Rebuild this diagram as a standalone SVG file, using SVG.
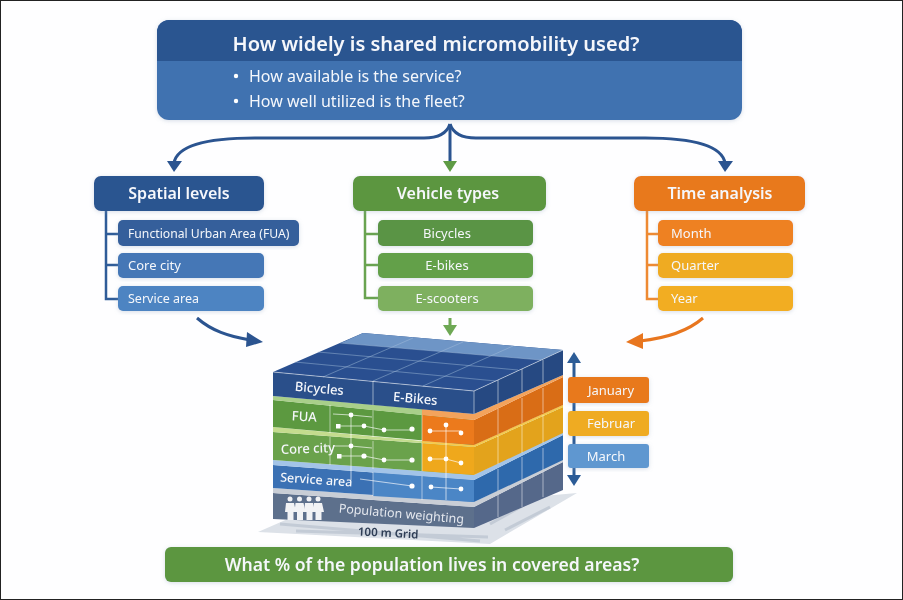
<svg xmlns="http://www.w3.org/2000/svg" width="903" height="600" viewBox="0 0 903 600">
<style>
text{font-family:"Noto Sans","Open Sans","Liberation Sans",sans-serif;fill:#f5f7fb;font-size:13px}
.h{font-weight:600;font-size:16px;text-anchor:middle}
.c{text-anchor:middle}
.cube{font-size:13px;font-weight:500}
.sep{stroke:#fff;stroke-opacity:.5;stroke-width:1;fill:none}
.topsep{stroke:#a9c0de;stroke-opacity:.45;stroke-width:1;fill:none}
.net{stroke:#fff;stroke-opacity:.65;stroke-width:1;fill:none}
.dot{fill:#fff}
.spine{fill:none;stroke-width:2.5}
.arrow{fill:none;stroke-width:3}
</style>
<defs>
<filter id="sh" x="-5%" y="-10%" width="110%" height="125%"><feDropShadow dx="0" dy="1" stdDeviation="2" flood-color="#8fa3bd" flood-opacity=".35"/></filter>
<filter id="soft" x="-2%" y="-2%" width="104%" height="104%"><feGaussianBlur stdDeviation="0.45"/></filter>
</defs>
<rect x="0" y="0" width="903" height="600" fill="#fff"/>
<rect x="0.5" y="0.5" width="902" height="599" fill="#fefeff" stroke="#222" stroke-width="1"/>

<g id="connectors">
<g stroke="#2b5490" class="arrow">
<path d="M450 124C447 133 438 138 424 138L255 138C205 138 177 146 174 163"/>
<path d="M450 124C453 133 462 138 476 138L645 138C695 138 722 146 725 163"/>
<path d="M450 124V163"/>
</g>
<path d="M167 161H182L174 172Z" fill="#2b5490"/>
<path d="M718 161H733L725 172Z" fill="#2b5490"/>
<path d="M443 161H457L450 172Z" fill="#5f9b45"/>
<g class="spine">
<path d="M106 211V299H118M106 234H118M106 265H118" stroke="#2f5c98"/>
<path d="M365 211V298H378M365 234H378M365 265H378" stroke="#69a350"/>
<path d="M647 211V299H658M647 234H658M647 265H658" stroke="#ee8a33"/>
</g>
<path d="M197 318C212 331 228 336 250 340" class="arrow" stroke="#2b5490"/>
<path d="M247 332L263 342L246 347Z" fill="#2b5490"/>
<path d="M450 318V327" stroke="#6ea854" stroke-width="3"/>
<path d="M443 325H457L450 336Z" fill="#6ea854"/>
<path d="M703 318C688 331 668 338 640 341" class="arrow" stroke="#e8761f"/>
<path d="M643 333L626 342L643 349Z" fill="#e8761f"/>
<path d="M574 360V478" stroke="#2c5c97" stroke-width="3"/>
<path d="M567 363L574 352L581 363Z" fill="#2c5c97"/>
<path d="M567 475H581L574 486Z" fill="#2c5c97"/>
</g>

<g id="header" filter="url(#sh)">
<rect x="157" y="20" width="585" height="100" rx="12" fill="#3f72b0"/>
<path d="M169 20H730A12 12 0 0 1 742 32V61H157V32A12 12 0 0 1 169 20Z" fill="#2c5490"/>
<text x="436" y="51" class="h" style="font-size:20px">How widely is shared micromobility used?</text>
<circle cx="236" cy="76" r="2.2" class="dot"/>
<circle cx="236" cy="101" r="2.2" class="dot"/>
<text x="249" y="82" style="font-size:16px">How available is the service?</text>
<text x="249" y="107" style="font-size:16px">How well utilized is the fleet?</text>
</g>

<g id="spatial-levels" filter="url(#sh)">
<rect x="94" y="176" width="170" height="35" rx="7" fill="#2b5490"/>
<text x="179" y="199" class="h">Spatial levels</text>
</g>
<g id="fua-item" filter="url(#sh)"><rect x="118" y="220" width="181" height="26" rx="5" fill="#345f9b"/><text x="128" y="238" style="font-size:12.2px">Functional Urban Area (FUA)</text></g>
<g id="core-item" filter="url(#sh)"><rect x="118" y="253" width="146" height="25" rx="5" fill="#4477b6"/><text x="128" y="270">Core city</text></g>
<g id="service-item" filter="url(#sh)"><rect x="118" y="286" width="146" height="25" rx="5" fill="#4d84c2"/><text x="128" y="303" style="font-size:12.5px">Service area</text></g>

<g id="vehicle-types" filter="url(#sh)">
<rect x="353" y="176" width="193" height="35" rx="7" fill="#5c963f"/>
<text x="448" y="199" class="h">Vehicle types</text>
</g>
<g id="bicycles-item" filter="url(#sh)"><rect x="378" y="220" width="155" height="26" rx="5" fill="#5a9444"/><text x="447" y="238" class="c">Bicycles</text></g>
<g id="ebikes-item" filter="url(#sh)"><rect x="378" y="253" width="155" height="25" rx="5" fill="#64a04a"/><text x="447" y="270" class="c">E-bikes</text></g>
<g id="escooters-item" filter="url(#sh)"><rect x="378" y="286" width="155" height="25" rx="5" fill="#7eb05f"/><text x="447" y="303" class="c">E-scooters</text></g>

<g id="time-analysis" filter="url(#sh)">
<rect x="634" y="176" width="171" height="35" rx="7" fill="#e8791c"/>
<text x="720" y="199" class="h">Time analysis</text>
</g>
<g id="month-item" filter="url(#sh)"><rect x="658" y="220" width="135" height="26" rx="5" fill="#ee8124"/><text x="671" y="238">Month</text></g>
<g id="quarter-item" filter="url(#sh)"><rect x="658" y="253" width="135" height="25" rx="5" fill="#efab22"/><text x="671" y="270">Quarter</text></g>
<g id="year-item" filter="url(#sh)"><rect x="658" y="286" width="135" height="25" rx="5" fill="#f2ad21"/><text x="671" y="303">Year</text></g>

<g id="cube" filter="url(#soft)">
<path d="M258 532L290 518L577 493L490 544Z" fill="#dce1e8"/>
<path d="M280 524L480 541M296 531L488 537M505 530L550 507M490 524L535 499" stroke="#c3cbd6" stroke-width="3" fill="none"/>
<path d="M273 493L474 507V528L273 519Z" fill="#5d6f8c"/>
<path d="M474 507L563 462V490L474 528Z" fill="#55678a"/>
<path d="M273 488L474 502L563 458V462L474 507L273 493Z" fill="#c9ced6"/>
<path d="M273 465L474 480V502L273 488Z" fill="#3a71b4"/>
<path d="M373 472L474 480V502L373 496Z" fill="#4c86c6"/>
<path d="M474 480L563 435V460L474 502Z" fill="#2f69ac"/>
<path d="M273 460L474 475L563 430V435L474 480L273 465Z" fill="#a3c4e8"/>
<path d="M273 432L474 447V475L273 460Z" fill="#6ba24c"/>
<path d="M422 443L474 447V475L422 471Z" fill="#efa81f"/>
<path d="M474 447L563 407V433L474 475Z" fill="#e3a31a"/>
<path d="M273 427L422 441L474 445L563 405V407L474 447L273 432Z" fill="#c4dc8e"/>
<path d="M422 441L474 445L563 405V407L474 447L422 443Z" fill="#f7c94e"/>
<path d="M273 400L474 420V445L273 427Z" fill="#5b993f"/>
<path d="M422 415L474 420V445L422 441Z" fill="#ec7a1b"/>
<path d="M474 420L563 377V405L474 445Z" fill="#d96d17"/>
<path d="M273 396L422 409L422 415L273 400Z" fill="#a9cf8a"/>
<path d="M422 409L474 414L563 375V377L474 420L422 415Z" fill="#f3a35c"/>
<path d="M273 372L474 391V414L273 396Z" fill="#2a4f8a"/>
<path d="M474 391L563 350V375L474 414Z" fill="#264a82"/>
<path d="M273 372L363 333L563 350L474 391Z" fill="#2a5090"/>
<path d="M363 333L563 350L541 360L341 343Z" fill="#6e95c6"/>
<g class="topsep">
<path d="M295 362L496 381M318 352L518 370M340 343L541 360"/>
<path d="M323 377L413 338M373 381L463 342M423 386L513 346"/>
</g>
<g class="sep">
<path d="M273 372L474 391L563 350M474 391V414"/>
<path d="M373 381V405M498 380V403M522 369V392M543 360V383"/>
<path d="M330 405V433M373 410V437M422 415V441"/>
<path d="M498 409V434M522 398V423M543 388V413"/>
<path d="M330 437V465M373 441V469M422 443V471"/>
<path d="M498 436V464M522 425V453M543 415V443"/>
<path d="M373 472V496M422 476V500"/>
<path d="M498 469V491M522 457V480M543 448V470"/>
<path d="M498 495V517M522 483V507M543 472V497"/>
</g>
<g class="net">
<path d="M351 415V480M446 425V500"/>
<path d="M333 414L351 415L372 417M338 426H364L384 430H412M430 431H461"/>
<path d="M333 446L351 446L372 448M339 456H364L384 460L412 460M430 459L446 459L461 463"/>
<path d="M360 479L412 486M431 487L461 489"/>
</g>
<g class="dot">
<circle cx="351" cy="415" r="2.4"/><rect x="336" y="424" width="4.5" height="4.5"/><circle cx="364" cy="426" r="2.4"/><circle cx="384" cy="430" r="2.4"/><circle cx="412" cy="429" r="2.6"/><circle cx="430" cy="431" r="2.4"/><circle cx="461" cy="433" r="2.4"/><circle cx="446" cy="425" r="2.4"/>
<circle cx="351" cy="446" r="2.4"/><rect x="337" y="454" width="4.5" height="4.5"/><circle cx="364" cy="456" r="2.6"/><circle cx="384" cy="460" r="2.4"/><circle cx="412" cy="460" r="2.6"/><circle cx="430" cy="459" r="2.4"/><circle cx="446" cy="459" r="2.4"/><circle cx="461" cy="463" r="2.4"/>
<circle cx="412" cy="486" r="2.6"/><circle cx="431" cy="487" r="2.4"/><circle cx="461" cy="489" r="2.4"/>
</g>
<g fill="#f2f3f5">
<circle cx="290" cy="499" r="2.5"/><path d="M286 503H294L296 512H293.5V520H287.5V512H285Z"/>
<circle cx="299.5" cy="499" r="2.5"/><path d="M295.5 503H303.5L305.5 512H303V520H297V512H294.5Z"/>
<circle cx="309" cy="499" r="2.5"/><path d="M305 503H313L315 512H312.5V520H306.5V512H304Z"/>
<circle cx="318" cy="499" r="2.5"/><path d="M314 503H322L324 512H321.5V520H315.5V512H313Z"/>
</g>
<text transform="translate(319 393) rotate(5)" class="c cube">Bicycles</text>
<text transform="translate(415 403) rotate(5)" class="c cube">E-Bikes</text>
<text transform="translate(304 421) rotate(3)" class="c cube">FUA</text>
<text transform="translate(308 453) rotate(-2)" class="c cube">Core city</text>
<text transform="translate(316 484) rotate(4)" class="c cube" style="font-size:12.5px">Service area</text>
<text transform="translate(401 518) rotate(5)" class="c" style="font-size:12.5px;fill:#e4e8ee">Population weighting</text>
<text transform="translate(388 537) rotate(3)" class="c" style="fill:#2d3d55;font-size:11.5px;font-weight:600">100 m Grid</text>
</g>

<g id="january" filter="url(#sh)"><rect x="568" y="377" width="81" height="26" rx="3" fill="#e8791c"/><text x="611" y="395" class="c">January</text></g>
<g id="februar" filter="url(#sh)"><rect x="568" y="411" width="81" height="25" rx="3" fill="#efab22"/><text x="611" y="428" class="c">Februar</text></g>
<g id="march" filter="url(#sh)"><rect x="568" y="444" width="81" height="24" rx="3" fill="#5f97d0"/><text x="606" y="461" class="c">March</text></g>

<g id="coverage-question" filter="url(#sh)">
<rect x="165" y="547" width="568" height="35" rx="6" fill="#5c963f"/>
<text x="432" y="571" class="h" style="font-size:17.6px">What % of the population lives in covered areas?</text>
</g>
</svg>
